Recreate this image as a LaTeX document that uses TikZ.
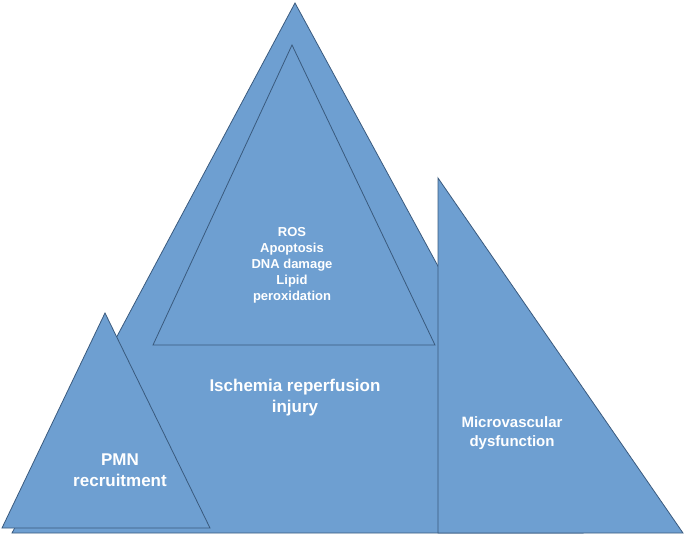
\documentclass[tikz,border=0pt]{standalone}
\usepackage{fontspec}
\setmainfont{Liberation Sans}
\begin{document}
\begin{tikzpicture}[x=1pt,y=-1pt,
  tri/.style={fill=tri,draw=edge,line width=0.8pt,line join=miter},
  lbl/.style={text=white,font=\bfseries,align=center,inner sep=0pt}]
\definecolor{tri}{HTML}{6E9FD1}
\definecolor{edge}{HTML}{3A5A7E}
\useasboundingbox (0,0) rectangle (685,535);
\draw[tri] (295,3) -- (583,533) -- (12,533) -- cycle;
\draw[tri] (292,45) -- (435,345) -- (153,345) -- cycle;
\draw[tri] (438,178) -- (683,533) -- (438,533) -- cycle;
\draw[tri] (105,313) -- (210,528) -- (2,528) -- cycle;
\node[lbl,font=\bfseries\fontsize{13}{16}\selectfont] (inner) at (292,265) {ROS\\Apoptosis\\DNA damage\\Lipid\\peroxidation};
\node[lbl,font=\bfseries\fontsize{17}{21}\selectfont] (iri) at (295,398) {Ischemia reperfusion\\injury};
\node[lbl,font=\bfseries\fontsize{15}{19}\selectfont] (mv) at (512,433) {Microvascular\\dysfunction};
\node[lbl,font=\bfseries\fontsize{17}{21}\selectfont] (pmn) at (120,470) {PMN\\recruitment};
\end{tikzpicture}
\end{document}
